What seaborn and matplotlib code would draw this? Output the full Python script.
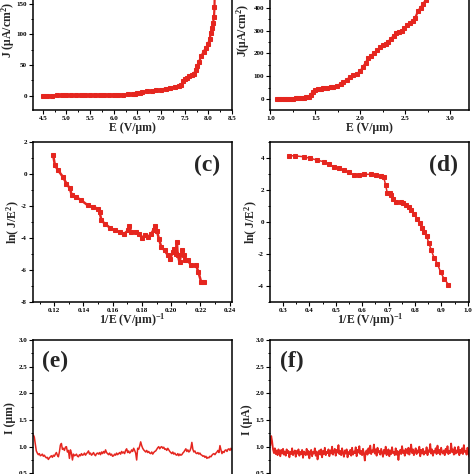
import numpy as np
import pandas as pd
import matplotlib
matplotlib.use("Agg")
import matplotlib.pyplot as plt
from matplotlib.ticker import MultipleLocator, FormatStrFormatter
import seaborn as sns

# (a) J-E curve, sample 1
aE=[4.50,4.60,4.70,4.80,4.90,5.00,5.10,5.20,5.30,5.40,5.50,5.60,5.70,5.80,5.90,
    6.00,6.10,6.20,6.30,6.40,6.45,6.50,6.55,6.60,6.70,6.80,6.90,7.00,7.10,7.20,
    7.30,7.38,7.43,7.46,7.50,7.55,7.60,7.65,7.70,7.73,7.76,7.80,7.85,7.90,7.95,
    8.00,8.03,8.05,8.08,8.10,8.12,8.13,8.135,8.14]
aJ=[0.0,0.1,0.1,0.2,0.2,0.3,0.4,0.8,1.0,1.0,1.1,1.2,1.2,1.3,1.4,
    1.5,1.6,1.8,2.0,2.5,3.0,4.0,5.0,6.0,6.8,7.5,8.5,10.0,11.5,13.0,
    14.5,15.5,17.0,24.0,27.0,29.0,32.0,34.0,36.0,42.0,48.0,55.0,64.0,72.0,78.0,
    85.0,93.0,102.0,110.0,119.0,129.0,145.0,170.0,230.0]

# (b) J-E curve, sample 2
bE=[1.07,1.10,1.13,1.16,1.19,1.22,1.25,1.28,1.31,1.34,1.37,1.40,1.43,
    1.45,1.47,1.50,1.53,1.56,1.59,1.63,1.67,1.70,1.74,1.78,1.81,1.85,1.89,1.92,1.96,
    2.00,2.03,2.06,2.09,2.12,2.15,2.19,2.22,2.25,2.28,2.31,2.34,2.37,2.40,2.43,2.46,
    2.49,2.52,2.55,2.58,2.61,2.64,2.67,2.70,2.73,2.76,2.80]
bJ=[0,0,0,1,1,2,2,3,4,5,6,8,10,
    18,33,38,42,45,48,50,52,54,57,66,74,84,98,104,110,
    122,140,160,178,190,200,214,228,236,243,252,262,278,288,295,300,
    310,324,335,342,356,385,400,418,436,462,500]

# (c) F-N plot, sample 1
cX=[0.1193,0.1205,0.1227,0.1260,0.1284,0.1307,0.1320,0.1350,0.1386,0.1430,
    0.1466,0.1500,0.1511,0.1523,0.1545,0.1580,0.1614,0.1648,0.1680,0.1705,
    0.1710,0.1727,0.1760,0.1780,0.1800,0.1818,0.1840,0.1864,0.1880,0.1890,
    0.1902,0.1916,0.1932,0.1955,0.1977,0.1993,0.2011,0.2018,0.2030,0.2039,
    0.2045,0.2057,0.2075,0.2086,0.2095,0.2114,0.2136,0.2170,0.2186,0.2205,0.2227]
cY=[1.17,0.54,0.23,-0.19,-0.60,-0.90,-1.33,-1.44,-1.65,-1.96,
    -2.06,-2.17,-2.40,-2.90,-3.10,-3.35,-3.52,-3.63,-3.73,-3.52,
    -3.27,-3.60,-3.60,-3.77,-3.98,-3.83,-3.94,-3.73,-3.48,-3.27,
    -3.56,-4.04,-4.56,-4.77,-5.08,-5.29,-4.88,-4.67,-4.98,-4.25,
    -5.08,-5.50,-4.77,-5.08,-5.40,-5.40,-5.70,-5.70,-6.12,-6.75,-6.75]

# (d) F-N plot, sample 2
dX=[0.3215,0.347,0.378,0.404,0.429,0.454,0.473,0.492,0.511,0.530,
    0.549,0.568,0.587,0.606,0.632,0.651,0.670,0.682,0.689,0.695,
    0.705,0.711,0.718,0.727,0.746,0.754,0.765,0.777,0.786,0.796,
    0.809,0.819,0.825,0.834,0.844,0.853,0.862,0.872,0.885,0.897,0.910,0.927]
dY=[4.15,4.13,4.08,3.98,3.87,3.77,3.62,3.46,3.35,3.25,
    3.10,2.94,2.94,2.98,2.98,2.94,2.87,2.79,2.31,1.83,
    1.79,1.68,1.41,1.27,1.27,1.16,1.06,0.91,0.74,0.49,
    0.21,-0.09,-0.40,-0.61,-0.88,-1.34,-1.76,-2.22,-2.60,-3.12,-3.54,-3.91]

# (e) stability, sample 1
eI=[1.22,1.18,1.05,0.92,0.88,0.85,0.87,0.83,0.84,0.86,
    0.82,0.84,0.81,0.79,0.80,0.76,0.79,0.81,0.83,0.80,
    0.84,0.82,0.86,0.89,0.84,0.81,0.90,1.03,1.06,0.95,
    0.97,0.93,0.99,1.00,0.90,0.93,0.78,0.94,0.88,0.75,
    0.86,0.83,0.84,0.86,0.82,0.81,0.85,0.83,0.87,0.84,
    0.85,0.88,0.84,0.87,0.89,0.92,0.86,0.88,0.84,0.86,
    0.89,0.85,0.83,0.87,0.88,0.86,0.89,0.85,0.90,0.87,
    0.91,0.88,0.94,0.89,0.87,0.85,0.88,0.84,0.86,0.82,
    0.83,0.86,0.84,0.88,0.85,0.87,0.89,0.86,0.91,0.88,
    0.90,0.87,0.93,0.96,0.89,0.92,0.88,0.90,0.94,0.91,
    0.97,0.93,0.88,0.75,0.97,0.95,1.01,1.09,1.02,0.97,
    0.94,0.92,0.90,0.93,0.89,0.91,0.88,0.87,0.90,0.86,
    0.89,0.91,0.92,0.95,0.98,1.00,0.96,0.99,1.00,0.97,
    0.99,0.95,0.96,0.93,0.97,0.94,0.91,0.89,0.87,0.90,
    0.86,0.88,0.85,0.84,0.87,0.83,0.86,0.84,0.85,0.88,
    0.90,0.93,0.96,0.91,0.94,0.90,0.92,0.97,1.08,0.95,
    0.90,0.92,0.88,0.87,0.89,0.86,0.88,0.85,0.84,0.82,
    0.83,0.80,0.82,0.78,0.80,0.79,0.82,0.81,0.84,0.86,
    0.87,0.85,0.88,0.90,0.93,0.89,1.02,0.94,0.87,0.91,
    0.89,0.93,0.94,0.91,0.95,0.96,0.93,0.97,0.94]

# (f) stability, sample 2
fI=[1.02,1.20,1.10,0.95,0.88,0.97,0.86,0.93,0.84,0.95,
    0.90,0.82,0.94,0.87,0.96,0.85,0.91,0.83,0.95,0.88,
    0.92,0.80,0.90,0.86,0.97,0.84,0.89,0.93,0.81,0.92,
    0.87,0.95,0.83,0.90,0.86,0.94,0.79,0.91,0.88,0.84,
    0.96,0.85,0.92,0.78,0.89,0.94,0.82,0.90,0.87,0.97,
    0.83,0.91,0.76,0.88,0.93,0.85,0.95,0.80,0.92,0.86,
    0.98,0.84,0.90,0.88,0.95,0.82,0.93,0.87,1.00,0.85,
    0.91,0.96,0.83,0.94,0.89,1.03,0.86,0.92,0.84,0.97,
    0.88,0.81,0.93,0.87,0.95,0.80,0.90,0.86,0.94,0.83,
    0.98,0.85,0.91,0.88,0.99,0.82,0.94,0.89,1.01,0.86,
    0.92,0.84,0.96,0.87,0.74,0.90,0.93,0.85,0.97,0.88,
    1.02,0.86,0.93,0.90,1.04,0.87,0.95,0.83,0.98,0.89,
    0.92,0.85,0.96,0.88,0.81,0.94,0.87,1.00,0.84,0.91,
    0.95,0.82,0.93,0.86,0.99,0.88,0.90,0.84,0.97,0.85,
    0.92,0.75,0.89,0.94,0.86,1.01,0.88,0.93,0.83,0.96,
    0.90,0.87,0.98,0.85,0.92,1.04,0.88,0.95,0.84,0.91,
    0.97,0.86,0.93,0.89,1.00,0.82,0.94,0.87,0.96,0.85,
    0.91,0.88,0.99,0.84,0.93,0.90,1.05,0.87,0.95,0.83,
    0.92,0.89,0.97,0.86,1.02,0.88,0.94,0.85,0.98,0.90,
    0.87,0.93,0.84,0.96,0.89,1.01,0.86,0.92,0.88,1.06,
    0.90,0.95,0.85,0.99,0.87,0.93,0.89,1.00,0.84,0.94,
    0.88,0.97,0.86,1.03,0.90,0.92,0.85,0.98,0.88,0.81]

RED="#e5261f"
W=474.0


def pxAxes(fig,left,bottom,width=199.0,height=160.0):
    # rectangle given in pixels measured from the top-left corner
    return fig.add_axes([left/W,1-bottom/W,width/W,height/W])


def styleAx(ax,xlim,ylim,xmaj,xmin,ymaj,ymin,xfmt,yfmt):
    ax.set_xlim(*xlim)
    ax.set_ylim(*ylim)
    ax.xaxis.set_major_locator(MultipleLocator(xmaj))
    ax.xaxis.set_minor_locator(MultipleLocator(xmin))
    ax.yaxis.set_major_locator(MultipleLocator(ymaj))
    ax.yaxis.set_minor_locator(MultipleLocator(ymin))
    ax.xaxis.set_major_formatter(FormatStrFormatter(xfmt))
    ax.yaxis.set_major_formatter(FormatStrFormatter(yfmt))
    ax.tick_params(which="major",direction="out",length=3,width=0.8,labelsize=5,pad=1.5)
    ax.tick_params(which="minor",direction="out",length=1.6,width=0.7)
    for sp in ax.spines.values():
        sp.set_visible(True)
        sp.set_linewidth(1.1)
        sp.set_color("black")


def labels(ax,xl,yl,xpos,ypos):
    if xl:
        ax.set_xlabel(xl,fontsize=8.5,fontweight="bold")
        ax.xaxis.label.set_va("center")
        ax.xaxis.set_label_coords(0.5,xpos)
    ax.set_ylabel(yl,fontsize=8.5,fontweight="bold")
    ax.yaxis.label.set_va("center")
    ax.yaxis.set_label_coords(ypos[0],ypos[1])


def main():
    sns.set_style("ticks",{"axes.edgecolor":"black","xtick.color":"black","ytick.color":"black"})
    plt.rcParams["font.family"]=["Liberation Serif","DejaVu Serif"]
    plt.rcParams["font.weight"]="bold"
    plt.rcParams["mathtext.fontset"]="custom"
    plt.rcParams["mathtext.rm"]="Liberation Serif:bold"
    plt.rcParams["mathtext.bf"]="Liberation Serif:bold"
    plt.rcParams["mathtext.it"]="Liberation Serif:italic:bold"
    plt.rcParams["mathtext.default"]="rm"

    fig=plt.figure(figsize=(4.74,4.74),dpi=100)

    axA=pxAxes(fig,33.3,110,198.7)
    axB=pxAxes(fig,270.3,110)
    axC=pxAxes(fig,33.3,302,198.7)
    axD=pxAxes(fig,270.3,302)
    axE=pxAxes(fig,33.3,500,198.7)
    axF=pxAxes(fig,270.3,500)

    dfA=pd.DataFrame({"E":aE,"J":aJ})
    sns.lineplot(data=dfA,x="E",y="J",ax=axA,color=RED,marker="s",markersize=3,
                 markeredgecolor=RED,linewidth=1.6,sort=False,estimator=None)
    styleAx(axA,(4.3,8.5),(-23.5,238),0.5,0.25,50,25,"%.1f","%d")
    labels(axA,"E (V/μm)","J (μA/cm$^2$)",-0.1125,(-0.127,0.5))

    dfB=pd.DataFrame({"E":bE,"J":bJ})
    sns.lineplot(data=dfB,x="E",y="J",ax=axB,color=RED,marker="s",markersize=3,
                 markeredgecolor=RED,linewidth=1.6,sort=False,estimator=None)
    styleAx(axB,(1.0,3.21),(-48,653),0.5,0.25,100,50,"%.1f","%d")
    labels(axB,"E (V/μm)","J(μA/cm$^2$)",-0.1125,(-0.138,0.5))

    dfC=pd.DataFrame({"invE":cX,"lnJE":cY})
    sns.lineplot(data=dfC,x="invE",y="lnJE",ax=axC,color=RED,marker="s",markersize=3.5,
                 markeredgecolor=RED,linewidth=1.8,sort=False,estimator=None)
    styleAx(axC,(0.1057,0.2416),(-8,2),0.02,0.01,2,1,"%.2f","%d")
    labels(axC,"1/E (V/μm)$^{-1}$","ln( J/E$^2$)",-0.116,(-0.1,0.5))
    axC.text(0.874,0.856,"(c)",transform=axC.transAxes,ha="center",va="center",
             fontsize=17,fontweight="bold")

    dfD=pd.DataFrame({"invE":dX,"lnJE":dY})
    sns.lineplot(data=dfD,x="invE",y="lnJE",ax=axD,color=RED,marker="s",markersize=2.8,
                 markeredgecolor=RED,linewidth=1.1,sort=False,estimator=None)
    styleAx(axD,(0.252,1.006),(-5,5),0.1,0.05,2,1,"%.1f","%d")
    labels(axD,"1/E (V/μm)$^{-1}$","ln( J/E$^2$)",-0.116,(-0.095,0.5))
    axD.text(0.871,0.856,"(d)",transform=axD.transAxes,ha="center",va="center",
             fontsize=17,fontweight="bold")

    dfE=pd.DataFrame({"t":np.arange(len(eI)),"I":eI})
    sns.lineplot(data=dfE,x="t",y="I",ax=axE,color=RED,linewidth=1.1,sort=False,estimator=None)
    styleAx(axE,(0,len(eI)-1),(0,3.0),50,25,0.5,0.25,"%d","%.1f")
    labels(axE,None,"I (μm)",None,(-0.117,0.51))
    axE.text(0.11,0.864,"(e)",transform=axE.transAxes,ha="center",va="center",
             fontsize=17,fontweight="bold")

    dfF=pd.DataFrame({"t":np.arange(len(fI)),"I":fI})
    sns.lineplot(data=dfF,x="t",y="I",ax=axF,color=RED,linewidth=1.3,sort=False,estimator=None)
    styleAx(axF,(0,len(fI)-1),(0,3.0),50,25,0.5,0.25,"%d","%.1f")
    labels(axF,None,"I (μA)",None,(-0.117,0.503))
    axF.text(0.109,0.864,"(f)",transform=axF.transAxes,ha="center",va="center",
             fontsize=17,fontweight="bold")

    fig.savefig("out.png",dpi=100)


if __name__=="__main__":
    main()
